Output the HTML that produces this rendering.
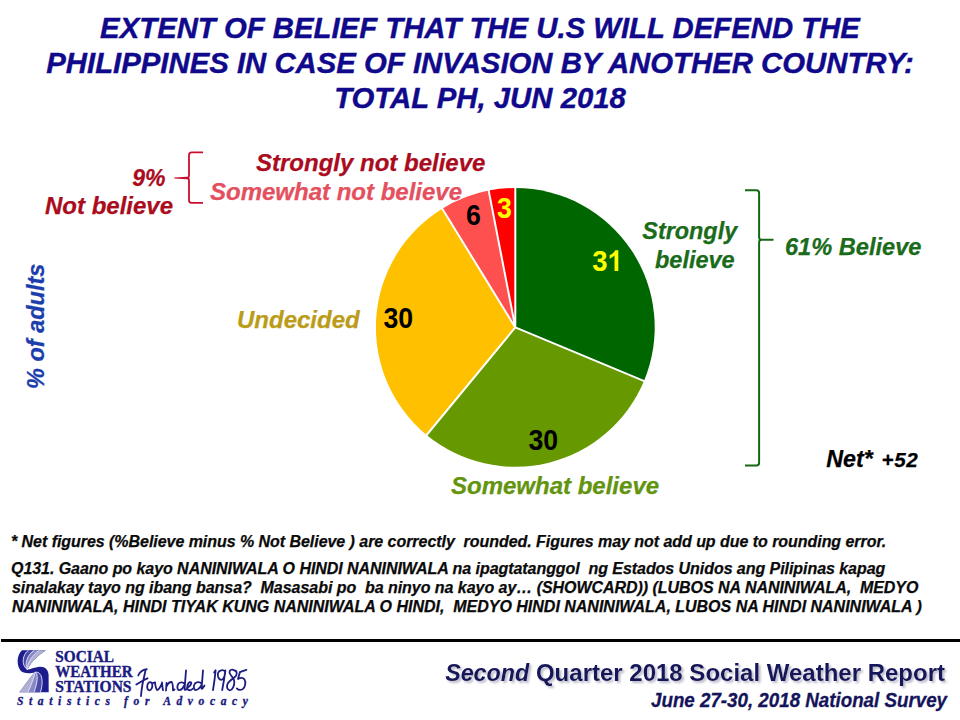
<!DOCTYPE html>
<html>
<head>
<meta charset="utf-8">
<style>
html,body{margin:0;padding:0;background:#fff;}
body{width:960px;height:720px;overflow:hidden;}
svg{display:block;}
text{font-family:"Liberation Sans",sans-serif;font-weight:bold;font-style:italic;white-space:pre;}
.t{font-size:29.33px;fill:#10098c;stroke:#10098c;stroke-width:0.4px;}
.l{font-size:24px;}
.n{font-size:26.67px;font-style:normal;}
.f{font-size:16px;fill:#0a0a0a;stroke:#0a0a0a;stroke-width:0.25px;}
</style>
</head>
<body>
<svg width="960" height="720" viewBox="0 0 960 720">
<rect width="960" height="720" fill="#fff"/>
<!-- Title -->
<text class="t" x="480" y="38" text-anchor="middle">EXTENT OF BELIEF THAT THE U.S WILL DEFEND THE</text>
<text class="t" x="480" y="73.2" text-anchor="middle">PHILIPPINES IN CASE OF INVASION BY ANOTHER COUNTRY:</text>
<text class="t" x="480" y="108.2" text-anchor="middle">TOTAL PH, JUN 2018</text>

<!-- Pie -->
<g>
<path d="M515.3,327.4 L515.30,188.00 A139.4,139.4 0 0 1 644.00,380.97 Z" fill="#006600"/>
<path d="M515.3,327.4 L644.00,380.97 A139.4,139.4 0 0 1 426.63,434.96 Z" fill="#669900"/>
<path d="M515.3,327.4 L426.63,434.96 A139.4,139.4 0 0 1 442.26,208.67 Z" fill="#FFC000"/>
<path d="M515.3,327.4 L442.26,208.67 A139.4,139.4 0 0 1 488.70,190.56 Z" fill="#FF5050"/>
<path d="M515.3,327.4 L488.70,190.56 A139.4,139.4 0 0 1 515.30,188.00 Z" fill="#FF0000"/>
<path d="M515.3,327.4 L515.30,187.00 M515.3,327.4 L644.92,381.36 M515.3,327.4 L425.99,435.74 M515.3,327.4 L441.73,207.82 M515.3,327.4 L488.51,189.58" stroke="#fff" stroke-width="2" stroke-linecap="round" fill="none"/>
</g>

<!-- pie numbers -->
<g transform="translate(592.2,270.9) scale(1.03,1.11)" fill="#ffff00"><text class="n">3</text><path transform="scale(0.013022,-0.013022)" d="M1947,0 H1666 V1059 Q1512,915 1303,846 V1101 Q1413,1130 1542,1225 Q1671,1318 1719,1425 H1947 Z"/></g>
<text class="n" transform="translate(528.5,449.8) scale(1,1.1)" fill="#000">30</text>
<text class="n" transform="translate(383.5,328.4) scale(1,1.1)" fill="#000">30</text>
<text class="n" transform="translate(466,225.4) scale(1,1.1)" fill="#000">6</text>
<text class="n" transform="translate(497,217.7) scale(1,1.1)" fill="#ffff00">3</text>

<!-- left labels -->
<text class="l" x="256" y="171.1" fill="#aa0c1e" stroke="#aa0c1e" stroke-width="0.25">Strongly not believe</text>
<text class="l" x="210" y="200.4" fill="#e4505e" stroke="#e4505e" stroke-width="0.25">Somewhat not believe</text>
<text class="l" x="132.3" y="185.5" fill="#aa0c1e" stroke="#aa0c1e" stroke-width="0.25" style="font-size:23px">9%</text>
<text class="l" x="45" y="214.2" fill="#aa0c1e" stroke="#aa0c1e" stroke-width="0.25">Not believe</text>
<path d="M203,152.4 L191.6,152.4 Q189,152.4 189,155 L189,175.6 Q189,178 186.6,178 M186.6,178 Q189,178 189,180.4 L189,200.2 Q189,202.8 191.6,202.8 L203,202.8" fill="none" stroke="#c8102e" stroke-width="1.8"/>
<path d="M174.2,177.55 L186.8,176.8 L189.2,178 L186.8,179.2 L174.2,178.45 Z" fill="#c8102e"/>

<text class="l" x="0" y="0" fill="#1b3eac" style="font-size:23.5px" transform="translate(44.2,389) rotate(-90)" stroke="#1b3eac" stroke-width="0.25">% of adults</text>
<text class="l" x="237" y="328.2" fill="#bb9c18" stroke="#bb9c18" stroke-width="0.25">Undecided</text>

<!-- right labels -->
<text class="l" x="642.3" y="238.6" fill="#1a6b1a" style="font-size:23.4px" stroke="#1a6b1a" stroke-width="0.25">Strongly</text>
<text class="l" x="655" y="268" fill="#1a6b1a" style="font-size:23.5px" stroke="#1a6b1a" stroke-width="0.25">believe</text>
<path d="M745,190.2 L756.3,190.2 Q759.1,190.2 759.1,193 L759.1,237.3 Q759.1,239.8 761.6,239.8 L773.5,239.8 M761.6,239.8 Q759.1,239.8 759.1,242.3 L759.1,462.7 Q759.1,465.5 756.3,465.5 L745,465.5" fill="none" stroke="#146814" stroke-width="2"/>
<text class="l" x="785" y="254.6" fill="#1a6b1a" style="font-size:23.6px" stroke="#1a6b1a" stroke-width="0.25">61% Believe</text>
<text class="l" x="826.3" y="466.6" fill="#000" style="font-size:23.3px" stroke="#000" stroke-width="0.25">Net*</text>
<text class="l" x="881.6" y="466.6" fill="#000" style="font-size:20.6px;letter-spacing:0.6px" stroke="#000" stroke-width="0.25">+52</text>
<text class="l" x="451" y="494.2" fill="#62940e" stroke="#62940e" stroke-width="0.25">Somewhat believe</text>

<!-- footnotes -->
<text class="f" x="11" y="546.7" textLength="875.2">* Net figures (%Believe minus % Not Believe ) are correctly  rounded. Figures may not add up due to rounding error.</text>
<text class="f" x="11" y="574" textLength="874.3">Q131. Gaano po kayo NANINIWALA O HINDI NANINIWALA na ipagtatanggol  ng Estados Unidos ang Pilipinas kapag</text>
<text class="f" x="12" y="593.2" textLength="906.4">sinalakay tayo ng ibang bansa?  Masasabi po  ba ninyo na kayo ay… (SHOWCARD)) (LUBOS NA NANINIWALA,  MEDYO</text>
<text class="f" x="12" y="612" textLength="909.8">NANINIWALA, HINDI TIYAK KUNG NANINIWALA O HINDI,  MEDYO HINDI NANINIWALA, LUBOS NA HINDI NANINIWALA )</text>

<!-- bottom rule -->
<rect x="1" y="639" width="959" height="3" fill="#000"/>

<!-- bottom right -->
<defs>
<filter id="sh" x="-5%" y="-30%" width="110%" height="160%">
<feGaussianBlur in="SourceAlpha" stdDeviation="1"/>
<feOffset dx="2" dy="2" result="b"/>
<feFlood flood-color="#9a9ab4" flood-opacity="0.7"/>
<feComposite in2="b" operator="in"/>
<feMerge><feMergeNode/><feMergeNode in="SourceGraphic"/></feMerge>
</filter>
</defs>
<text x="945" y="680.5" text-anchor="end" fill="#14145a" style="font-size:24px;font-style:normal" filter="url(#sh)"><tspan style="font-style:italic;font-size:23.3px">Second</tspan> Quarter 2018 Social Weather Report</text>
<text x="651" y="706.5" textLength="296" lengthAdjust="spacingAndGlyphs" fill="#14145a" stroke="#14145a" stroke-width="0.3" style="font-size:19.4px">June 27-30, 2018 National Survey</text>

<!-- logo -->
<g fill="#1a1a80">
<text x="55.3" y="661.5" textLength="58.6" lengthAdjust="spacingAndGlyphs" style="font-family:'Liberation Serif';font-style:normal;font-size:17px;stroke:#1a1a80;stroke-width:0.4px">SOCIAL</text>
<text x="55.3" y="676.7" textLength="77.4" lengthAdjust="spacingAndGlyphs" style="font-family:'Liberation Serif';font-style:normal;font-size:17px;stroke:#1a1a80;stroke-width:0.4px">WEATHER</text>
<text x="55.3" y="692" textLength="76.2" lengthAdjust="spacingAndGlyphs" style="font-family:'Liberation Serif';font-style:normal;font-size:17px;stroke:#1a1a80;stroke-width:0.4px">STATIONS</text>
<g fill="none" stroke="#1c1c80" stroke-width="1.8" stroke-linecap="round" stroke-linejoin="round">
<path d="M138.3,675.5 C139.5,672.5 142,670 146.8,669.2 M145.6,670 C144.6,675 143,681 142.2,686 C141.6,690 141.2,693 141,696 M136.3,684.5 C139.5,682.5 143.5,680 147.5,678.3"/>
<path d="M151.6,683 C150.5,681.5 147.8,682 147.3,685.5 C146.9,688.5 148,690.6 149.6,690.4 C151.6,690.1 152.6,687 152.3,684.5 C152,683 151.5,682.3 150.8,682.3 M152,683.2 C153,683 154,682.8 155,682.6"/>
<path d="M155,682.5 C155.3,685 155.8,688.5 157,690 C158.5,690.5 161,686 162,683 M162,682.5 C162.2,685 162.5,688 163,690.2"/>
<path d="M166.5,683 C166.4,685.5 166.2,688 166,690.5 M166.6,686.5 C167.5,684 169.5,682 171.5,682 C172.8,682.2 172.8,685 173,690.3 C173.3,690.6 174,690 174.5,689.5"/>
<path d="M184.5,683.5 C183,682 180,681.8 178.5,683.5 C177,685.5 177,689 178.5,690 C180.5,690.6 183,688 184.5,685 M186,670.5 C185.6,676 185,683 184.6,689.3 C184.8,690.2 185.8,690 186.5,689.2"/>
<path d="M187,688 C188.5,687 191.5,685 191.3,683 C191,681.5 189,682 188,684 C187,686 187,689 188.5,690 C189.8,690.6 191.5,689.8 192.6,688.8"/>
<path d="M201.5,683.5 C200,682 197,681.5 195,683.5 C193.3,685.5 193.5,689 195,690 C197,690.6 200,688 201.5,685 M203,670.5 C202.6,676 202,683 201.6,688.5 C201.7,689.8 203,688 204.5,685.5"/>
<path d="M214.2,672.5 C214.8,671.5 215.3,670.8 215.6,670.3 C215,677 214,684 213,690.2"/>
<path d="M225,671.5 C223.5,669.5 219,669.8 218,673 C217.3,676 218.5,679.5 221,679.8 C223.5,680 225,676 225.3,671.5 M225.3,670.3 C224.5,677 223.5,683.5 222.2,690.2"/>
<path d="M234.5,670.5 C232.5,668.8 229.3,669.5 229.5,672.5 C229.8,675.5 234,677 234.3,681.5 C234.6,685.5 232.5,690.5 229.8,690.3 C227,690 226.5,686.5 227.5,684 C228.8,681 233,678.5 235.5,676.5 C237.2,675 237.3,670.5 234.5,670.5 Z"/>
<path d="M246.4,669.9 C244,670.6 242,671.2 239.9,672.1 M240,672 C239.2,674.5 238.5,677 238,679 C240,677.5 243,677.2 244.5,679.5 C246,682 245.5,687.5 242.5,689.3 C240,690.5 237.8,689.5 236.8,688.4"/>
</g>
<text x="17" y="704.8" style="font-family:'Liberation Serif';font-size:11.5px;letter-spacing:5.64px;stroke:#1a1a80;stroke-width:0.35px">Statistics for Advocacy</text>
</g>
<g id="slogo">
<path d="M22,650.3 L46,650.3 C38.5,655 30.5,662.5 27.4,669.6 C30.5,669.6 34,667.3 39.5,666.8 C45,666.4 48.5,670 48.6,675 L48.7,692.3 L19.3,692.3 C24,686 31,676 34.8,672.4 C31,673.3 25,673.8 21.5,671.5 C16.5,667 16,656 22,650.3 Z" fill="#1c1c8c"/>
<path d="M28.30,650.30 L27.57,650.82 L26.88,651.42 L26.24,652.09 L25.65,652.82 L25.11,653.61 L24.63,654.44 L24.20,655.32 L23.84,656.23 L23.54,657.18 L23.31,658.14 L23.14,659.12 L23.05,660.11 L23.03,661.10 L23.08,662.08 L23.22,663.05 L23.43,664.01 L23.73,664.94 L24.11,665.83 L24.58,666.69 L25.14,667.50 L25.80,668.26 L26.55,668.96 L27.40,669.60 L27.40,669.60 L26.98,668.87 L26.64,668.09 L26.38,667.27 L26.20,666.42 L26.09,665.54 L26.06,664.63 L26.10,663.70 L26.21,662.76 L26.38,661.81 L26.61,660.86 L26.91,659.90 L27.26,658.95 L27.67,658.01 L28.12,657.09 L28.63,656.18 L29.19,655.31 L29.79,654.46 L30.44,653.65 L31.12,652.88 L31.84,652.15 L32.60,651.48 L33.38,650.86 L34.20,650.30 Z" fill="#4a4aa8"/>
<path d="M34.20,650.30 L33.38,650.86 L32.60,651.48 L31.84,652.15 L31.12,652.88 L30.44,653.65 L29.79,654.46 L29.19,655.31 L28.63,656.18 L28.12,657.09 L27.67,658.01 L27.26,658.95 L26.91,659.90 L26.61,660.86 L26.38,661.81 L26.21,662.76 L26.10,663.70 L26.06,664.63 L26.09,665.54 L26.20,666.42 L26.38,667.27 L26.64,668.09 L26.98,668.87 L27.40,669.60 L27.40,669.60 L27.35,668.78 L27.36,667.94 L27.45,667.07 L27.60,666.18 L27.81,665.28 L28.08,664.37 L28.41,663.44 L28.79,662.51 L29.23,661.58 L29.71,660.65 L30.24,659.72 L30.81,658.81 L31.43,657.90 L32.09,657.01 L32.78,656.14 L33.50,655.29 L34.26,654.47 L35.04,653.68 L35.85,652.93 L36.69,652.20 L37.54,651.52 L38.41,650.89 L39.30,650.30 Z" fill="#8888c6"/>
<path d="M39.30,650.30 L38.41,650.89 L37.54,651.52 L36.69,652.20 L35.85,652.93 L35.04,653.68 L34.26,654.47 L33.50,655.29 L32.78,656.14 L32.09,657.01 L31.43,657.90 L30.81,658.81 L30.24,659.72 L29.71,660.65 L29.23,661.58 L28.79,662.51 L28.41,663.44 L28.08,664.37 L27.81,665.28 L27.60,666.18 L27.45,667.07 L27.36,667.94 L27.35,668.78 L27.40,669.60 L27.40,669.60 L27.83,668.67 L28.32,667.74 L28.85,666.81 L29.43,665.88 L30.06,664.95 L30.73,664.02 L31.44,663.10 L32.19,662.18 L32.97,661.27 L33.78,660.38 L34.62,659.49 L35.49,658.61 L36.38,657.76 L37.29,656.91 L38.22,656.09 L39.17,655.28 L40.12,654.49 L41.09,653.73 L42.07,652.99 L43.05,652.27 L44.04,651.59 L45.02,650.93 L46.00,650.30 Z" fill="#b0b0d2"/>
<path d="M34.80,672.40 L35.63,672.23 L36.42,672.18 L37.17,672.25 L37.87,672.43 L38.52,672.73 L39.12,673.13 L39.67,673.64 L40.17,674.25 L40.62,674.95 L41.01,675.74 L41.34,676.62 L41.62,677.57 L41.83,678.61 L41.99,679.72 L42.08,680.90 L42.11,682.14 L42.07,683.45 L41.97,684.81 L41.80,686.22 L41.56,687.68 L41.25,689.18 L40.86,690.72 L40.40,692.30 L34.00,692.30 L34.51,690.95 L34.98,689.60 L35.40,688.28 L35.77,686.98 L36.11,685.71 L36.40,684.46 L36.64,683.25 L36.84,682.08 L37.00,680.96 L37.12,679.89 L37.19,678.86 L37.22,677.90 L37.21,677.00 L37.15,676.17 L37.06,675.40 L36.92,674.71 L36.74,674.11 L36.52,673.59 L36.26,673.15 L35.95,672.81 L35.61,672.57 L35.22,672.43 L34.80,672.40 Z" fill="#4a4aa8"/>
<path d="M34.80,672.40 L35.22,672.43 L35.61,672.57 L35.95,672.81 L36.26,673.15 L36.52,673.59 L36.74,674.11 L36.92,674.71 L37.06,675.40 L37.15,676.17 L37.21,677.00 L37.22,677.90 L37.19,678.86 L37.12,679.89 L37.00,680.96 L36.84,682.08 L36.64,683.25 L36.40,684.46 L36.11,685.71 L35.77,686.98 L35.40,688.28 L34.98,689.60 L34.51,690.95 L34.00,692.30 L27.80,692.30 L28.36,691.16 L28.90,690.02 L29.43,688.87 L29.94,687.72 L30.42,686.58 L30.89,685.44 L31.34,684.33 L31.77,683.23 L32.17,682.16 L32.55,681.12 L32.90,680.11 L33.23,679.15 L33.53,678.22 L33.80,677.34 L34.04,676.52 L34.25,675.75 L34.43,675.05 L34.58,674.41 L34.70,673.85 L34.78,673.36 L34.82,672.95 L34.83,672.63 L34.80,672.40 Z" fill="#8888c6"/>
<path d="M34.80,672.40 L34.83,672.63 L34.82,672.95 L34.78,673.36 L34.70,673.85 L34.58,674.41 L34.43,675.05 L34.25,675.75 L34.04,676.52 L33.80,677.34 L33.53,678.22 L33.23,679.15 L32.90,680.11 L32.55,681.12 L32.17,682.16 L31.77,683.23 L31.34,684.33 L30.89,685.44 L30.42,686.58 L29.94,687.72 L29.43,688.87 L28.90,690.02 L28.36,691.16 L27.80,692.30 L19.30,692.30 L19.93,691.46 L20.57,690.58 L21.24,689.67 L21.93,688.73 L22.63,687.77 L23.35,686.79 L24.08,685.80 L24.81,684.81 L25.54,683.81 L26.28,682.81 L27.02,681.83 L27.75,680.85 L28.48,679.90 L29.20,678.96 L29.90,678.05 L30.60,677.18 L31.27,676.34 L31.92,675.55 L32.56,674.81 L33.16,674.11 L33.74,673.48 L34.29,672.91 L34.80,672.40 Z" fill="#b0b0d2"/>
<path d="M28.50,650.30 C22.68,654.01 20.61,664.97 27.40,669.60 M34.20,650.30 C27.83,654.33 23.83,664.17 27.40,669.60 M39.30,650.30 C32.44,654.62 26.71,663.45 27.40,669.60 M34.80,672.40 C41.35,670.58 44.21,680.08 40.40,692.30 M34.80,672.40 C38.21,672.22 38.08,681.88 34.00,692.30 M34.80,672.40 C35.17,673.82 32.14,683.62 27.80,692.30" fill="none" stroke="#e8e8ff" stroke-width="0.9"/>
</g>
</svg>
</body>
</html>
